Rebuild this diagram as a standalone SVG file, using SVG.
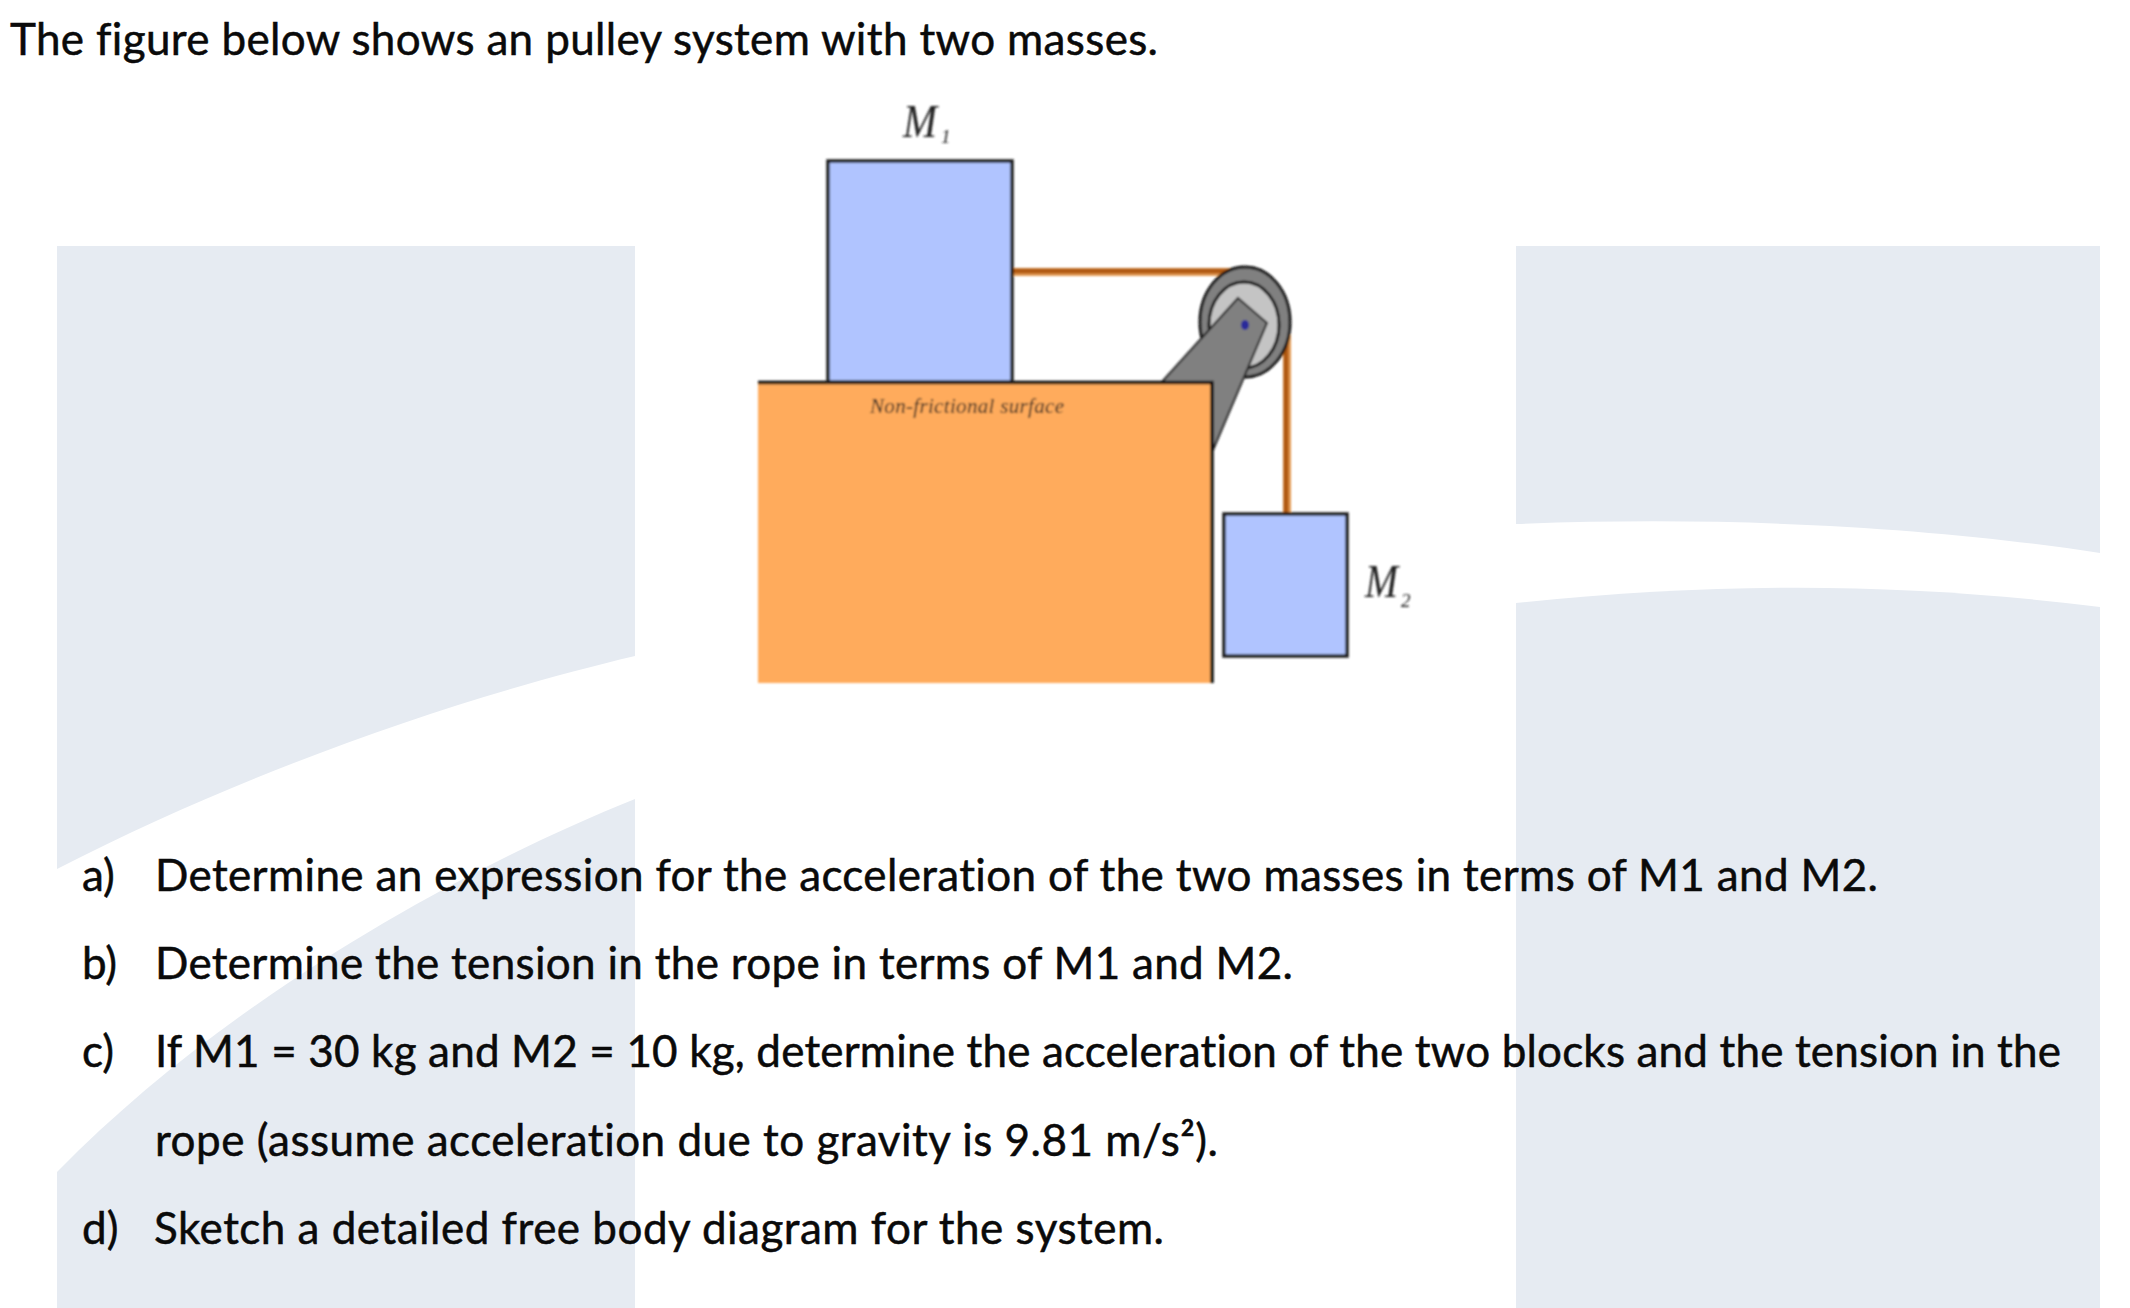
<svg xmlns="http://www.w3.org/2000/svg" width="2130" height="1308" viewBox="0 0 2130 1308">
<style>
.bg{fill:#e6ebf2}
.t{font-family:"Lato","Open Sans","Liberation Sans",sans-serif;font-size:44px;fill:#0a0a0a;stroke:#0a0a0a;stroke-width:0.5;font-variant-ligatures:none}
.m{font-family:"Liberation Serif","Times New Roman",serif;font-style:italic;fill:#222}
.box{fill:#b0c4ff;stroke:#1c1c1c;stroke-width:3.500}
.rope0{fill:none;stroke:#e39a52;stroke-width:8}
.rope{fill:none;stroke:#b0590f;stroke-width:5}
.edge{fill:none;stroke:#111;stroke-width:3.500}
</style>
<defs><filter id="soft" x="-5%" y="-5%" width="110%" height="110%"><feGaussianBlur stdDeviation="0.8"/></filter></defs>
<rect width="2130" height="1308" fill="#fff"/>
<g id="watermark">
<path class="bg" d="M57 246H635V656C470 695 260 765 57 869Z"/>
<path class="bg" d="M635 799C470 865 230 995 57 1172V1308H635Z"/>
<path class="bg" d="M1516 246H2100V553C1950 530 1750 515 1516 524Z"/>
<path class="bg" d="M1516 603C1720 582 1900 582 2100 607V1308H1516Z"/>
</g>
<g filter="url(#soft)">
<g id="connectors">
<path class="rope0" d="M1012 272H1235"/>
<path class="rope0" d="M1287 335V514"/>
<path class="rope" d="M1012 271H1235"/>
<path class="rope" d="M1286 335V514"/>
</g>
<g id="pulley">
<ellipse cx="1245" cy="322" rx="45" ry="55" fill="#808080" stroke="#111" stroke-width="3"/>
<ellipse cx="1244" cy="325" rx="35" ry="43" fill="#c4c4c4" stroke="#111" stroke-width="3"/>
<path d="M1238 298L1267 323L1213 450V384H1160Z" fill="#808080" stroke="#222" stroke-width="2"/>
<ellipse cx="1245" cy="325" rx="4" ry="5" fill="#2a2a9a"/>
</g>
<g id="table">
<rect x="758" y="382" width="454" height="301" fill="#ffab5c"/>
<path class="edge" d="M758 382.500H1212V683"/>
<text class="m" x="870" y="413" font-size="21" textLength="194" fill="#4a3a20">Non-frictional surface</text>
</g>
<g id="mass1">
<rect class="box" x="828" y="161" width="184" height="221"/>
<text class="m" x="903" y="137" font-size="46" textLength="34" lengthAdjust="spacingAndGlyphs">M</text>
<text class="m" x="941" y="143" font-size="19">1</text>
</g>
<g id="mass2">
<rect class="box" x="1224" y="514" width="123" height="142"/>
<text class="m" x="1365" y="597" font-size="46" textLength="33" lengthAdjust="spacingAndGlyphs">M</text>
<text class="m" x="1401" y="607" font-size="19">2</text>
</g>
</g>
<g id="text">
<text class="t" x="10" y="55" textLength="1148">The figure below shows an pulley system with two masses.</text>
<text class="t" x="82" y="891">a)</text>
<text class="t" x="155" y="891" textLength="1723">Determine an expression for the acceleration of the two masses in terms of M1 and M2.</text>
<text class="t" x="82" y="979">b)</text>
<text class="t" x="155" y="979" textLength="1138">Determine the tension in the rope in terms of M1 and M2.</text>
<text class="t" x="82" y="1067">c)</text>
<text class="t" x="155" y="1067" textLength="1906">If M1 = 30 kg and M2 = 10 kg, determine the acceleration of the two blocks and the tension in the</text>
<text class="t" x="155" y="1156" textLength="1063">rope (assume acceleration due to gravity is 9.81 m/s²).</text>
<text class="t" x="82" y="1244">d)</text>
<text class="t" x="154" y="1244" textLength="1010">Sketch a detailed free body diagram for the system.</text>
</g>
</svg>
